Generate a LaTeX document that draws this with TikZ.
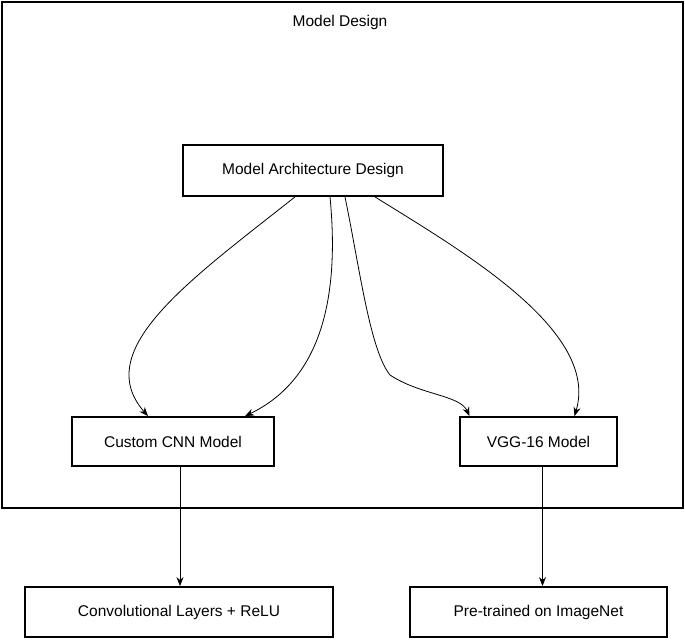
\documentclass[tikz,border=0pt]{standalone}
\usepackage{fontspec}
\setmainfont{Liberation Sans}
\usetikzlibrary{calc,arrows.meta}
\begin{document}
\begin{tikzpicture}[x=1pt,y=-1pt,
  box/.style={draw,line width=1.8pt,inner sep=0pt,font=\fontsize{15.5}{18}\selectfont},
  conn/.style={draw,line width=0.8pt,-{Stealth[length=9pt,width=7pt]}}]
\useasboundingbox (0,0) rectangle (685,640);
\draw[line width=1.8pt] (2,2) rectangle (683,508);
\node[font=\fontsize{15.5}{18}\selectfont] (title) at (340,22) {Model Design};
\node[box,minimum width=260pt,minimum height=51pt] (arch) at (313,170.5) {Model Architecture Design};
\node[box,minimum width=202pt,minimum height=49pt] (cnn) at (173,441.5) {Custom CNN Model};
\node[box,minimum width=157pt,minimum height=49pt] (vgg) at (538.5,441.5) {VGG-16 Model};
\node[box,minimum width=308pt,minimum height=50pt] (conv) at (179,612) {Convolutional Layers + ReLU};
\node[box,minimum width=257pt,minimum height=50pt] (pre) at (538.5,612) {Pre-trained on ImageNet};
\coordinate (a1) at ($(arch.south)+(-18,0)$);
\coordinate (a2) at ($(arch.south)+(17,0)$);
\coordinate (a3) at ($(arch.south)+(32,0)$);
\coordinate (a4) at ($(arch.south)+(62,0)$);
\draw[conn] (a1) .. controls (190,280) and (90,350) .. ($(cnn.north)+(-25,0)$);
\draw[conn] (a2) .. controls (340,300) and (320,380) .. ($(cnn.north)+(72,0)$);
\draw[conn] (a3) .. controls (360,270) and (370,350) .. (390,375) .. controls (420,395) and (460,395) .. ($(vgg.north)+(-69,0)$);
\draw[conn] (a4) .. controls (460,250) and (600,330) .. ($(vgg.north)+(36,0)$);
\draw[conn] ($(cnn.south)+(7,0)$) -- ($(conv.north)+(1,0)$);
\draw[conn] ($(vgg.south)+(4,0)$) -- ($(pre.north)+(4,0)$);
\end{tikzpicture}
\end{document}
